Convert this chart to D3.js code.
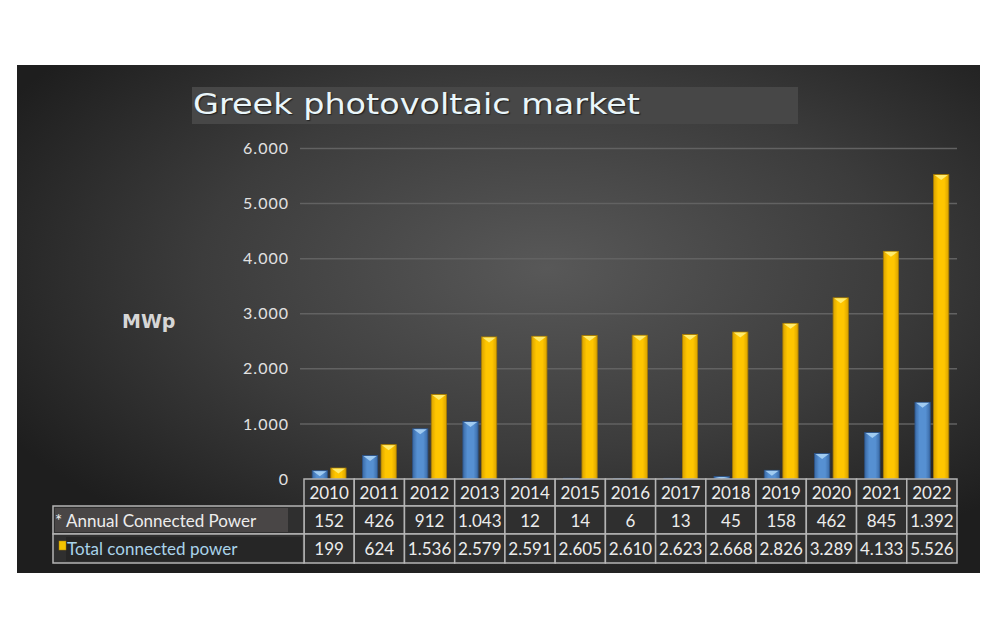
<!DOCTYPE html>
<html>
<head>
<meta charset="utf-8">
<script src="https://cdn.jsdelivr.net/npm/d3@7"></script>
<style>
  body { margin: 0; background: #fff; }
  svg { display: block; }
</style>
</head>
<body>
<div id="chart"></div>
<script>
var years = ['2010', '2011', '2012', '2013', '2014', '2015', '2016', '2017', '2018', '2019', '2020', '2021', '2022'];
var annualPower = [152, 426, 912, 1043, 12, 14, 6, 13, 45, 158, 462, 845, 1392];
var totalPower = [199, 624, 1536, 2579, 2591, 2605, 2610, 2623, 2668, 2826, 3289, 4133, 5526];
var yTicks = [0, 1000, 2000, 3000, 4000, 5000, 6000];
var seriesNames = ['* Annual Connected Power', 'Total connected power'];

var width = 1000, height = 640;

var svg = d3.select('#chart')
  .append('svg')
  .attr('width', width)
  .attr('height', height);

var gr = d3.formatLocale({ decimal: ',', thousands: '.', grouping: [3], currency: ['', ''] });
var fmt = gr.format(',d');

var defs = svg.append('defs');

// dark slide background
var bg = defs.append('radialGradient').attr('id', 'bg')
  .attr('cx', '55%').attr('cy', '40%').attr('r', '65%');
bg.append('stop').attr('offset', '0%').attr('stop-color', '#585858');
bg.append('stop').attr('offset', '55%').attr('stop-color', '#3c3c3c');
bg.append('stop').attr('offset', '100%').attr('stop-color', '#1e1e1e');

function barGrad(id, edge, mid) {
  var g = defs.append('linearGradient').attr('id', id)
    .attr('x1', '0%').attr('y1', '0%').attr('x2', '100%').attr('y2', '0%');
  g.append('stop').attr('offset', '0%').attr('stop-color', edge);
  g.append('stop').attr('offset', '30%').attr('stop-color', mid);
  g.append('stop').attr('offset', '70%').attr('stop-color', mid);
  g.append('stop').attr('offset', '100%').attr('stop-color', edge);
}
barGrad('blueBar', '#3a6aa6', '#5690d2');
barGrad('yellowBar', '#d9a200', '#ffc600');

svg.append('rect')
  .attr('x', 17).attr('y', 65)
  .attr('width', 963).attr('height', 508)
  .attr('fill', 'url(#bg)');

// title
svg.append('rect')
  .attr('x', 192).attr('y', 87)
  .attr('width', 606).attr('height', 37)
  .attr('fill', '#474747');
svg.append('text')
  .attr('x', 193).attr('y', 114)
  .attr('font-family', 'DejaVu Sans, sans-serif')
  .attr('font-size', 28)
  .attr('textLength', 447)
  .attr('lengthAdjust', 'spacingAndGlyphs')
  .attr('fill', '#eaf6fa')
  .style('text-shadow', '1px 1px 1px #222')
  .text('Greek photovoltaic market');

// scales
var x = d3.scaleBand()
  .domain(years)
  .range([304, 957]);

var xInner = d3.scaleBand()
  .domain(['annual', 'total'])
  .range([0, x.bandwidth()])
  .paddingInner(0.18)
  .paddingOuter(0.44);

var y = d3.scaleLinear()
  .domain([0, 6000])
  .range([479, 148.5]);

// gridlines
svg.append('g')
  .selectAll('line')
  .data(yTicks.slice(1))
  .enter().append('line')
  .attr('x1', 300).attr('x2', 957)
  .attr('y1', function(d) { return y(d) })
  .attr('y2', function(d) { return y(d) })
  .attr('stroke', '#626262')
  .attr('stroke-width', 1.5);

var yAxis = svg.append('g')
  .attr('transform', 'translate(289,0)')
  .call(d3.axisLeft(y).tickValues(yTicks).tickFormat(fmt).tickSize(0).tickPadding(0));
yAxis.select('.domain').remove();
yAxis.selectAll('text')
  .attr('font-family', 'Lato, sans-serif')
  .attr('font-size', 16)
  .attr('letter-spacing', 1)
  .attr('fill', '#e2e2e2');

svg.append('text')
  .attr('x', 122).attr('y', 328)
  .attr('font-family', 'DejaVu Sans, sans-serif')
  .attr('font-weight', 'bold')
  .attr('font-size', 19)
  .attr('fill', '#d6d6d6')
  .text('MWp');

// bars
var barData = [];
years.forEach(function(yr, i) {
  barData.push({ year: yr, key: 'annual', value: annualPower[i] });
  barData.push({ year: yr, key: 'total', value: totalPower[i] });
});

var colors = {
  annual: { fill: 'url(#blueBar)', stroke: '#2c5388', top: '#a9d2f4' },
  total: { fill: 'url(#yellowBar)', stroke: '#a87c00', top: '#fff07a' }
};

var bars = svg.append('g').selectAll('.bar')
  .data(barData)
  .enter().append('g')
  .attr('class', 'bar');

bars.append('rect')
  .attr('x', function(d) { return x(d.year) + xInner(d.key) })
  .attr('y', function(d) { return y(d.value) })
  .attr('width', xInner.bandwidth())
  .attr('height', function(d) { return y(0) - y(d.value) })
  .attr('fill', function(d) { return colors[d.key].fill })
  .attr('stroke', function(d) { return colors[d.key].stroke })
  .attr('stroke-width', 0.8);

// bevelled top
bars.append('path')
  .attr('d', function(d) {
    var x0 = x(d.year) + xInner(d.key) + 1, w = xInner.bandwidth() - 2;
    var y0 = y(d.value) + 0.5, h = Math.min(5, y(0) - y(d.value) - 1);
    if (h <= 0) return null;
    return 'M' + x0 + ',' + y0 + 'L' + (x0 + w) + ',' + y0 + 'L' + (x0 + w / 2) + ',' + (y0 + h) + 'Z';
  })
  .attr('fill', function(d) { return colors[d.key].top })
  .attr('opacity', 0.9);

// data table
var rowTop = [479, 506, 534, 563];
var table = svg.append('g');

var rows = [years, annualPower.map(fmt), totalPower.map(fmt)];
var baselines = [499, 527, 555];

rows.forEach(function(row, r) {
  table.selectAll('.cell-' + r)
    .data(row)
    .enter().append('rect')
    .attr('class', 'cell-' + r)
    .attr('x', function(d, i) { return x(years[i]) })
    .attr('y', rowTop[r])
    .attr('width', x.bandwidth())
    .attr('height', rowTop[r + 1] - rowTop[r])
    .attr('fill', '#2f2f2f')
    .attr('stroke', '#b4b4b4')
    .attr('stroke-width', 1.5);

  table.selectAll('.txt-' + r)
    .data(row)
    .enter().append('text')
    .attr('class', 'txt-' + r)
    .attr('x', function(d, i) { return x(years[i]) + x.bandwidth() / 2 })
    .attr('y', baselines[r])
    .attr('text-anchor', 'middle')
    .attr('font-family', 'Lato, sans-serif')
    .attr('font-size', 17)
    .attr('fill', '#ececec')
    .text(function(d) { return d });
});

// row labels
[1, 2].forEach(function(r) {
  table.append('rect')
    .attr('x', 53).attr('y', rowTop[r])
    .attr('width', 251).attr('height', rowTop[r + 1] - rowTop[r])
    .attr('fill', '#2f2f2f')
    .attr('stroke', '#b4b4b4')
    .attr('stroke-width', 1.5);
});

table.append('rect')
  .attr('x', 55).attr('y', 508)
  .attr('width', 233).attr('height', 24)
  .attr('fill', '#494646');
table.append('text')
  .attr('x', 55).attr('y', 527)
  .attr('font-family', 'Lato, sans-serif')
  .attr('font-size', 17)
  .attr('fill', '#ededed')
  .text(seriesNames[0]);

table.append('rect')
  .attr('x', 66).attr('y', 537)
  .attr('width', 236).attr('height', 24)
  .attr('fill', '#262626');
table.append('rect')
  .attr('x', 59).attr('y', 541)
  .attr('width', 7).attr('height', 9)
  .attr('fill', '#f3c300')
  .attr('stroke', '#a87c00')
  .attr('stroke-width', 0.5);
table.append('text')
  .attr('x', 67).attr('y', 555)
  .attr('font-family', 'Lato, sans-serif')
  .attr('font-size', 17)
  .attr('fill', '#a9d3ea')
  .text(seriesNames[1]);
</script>
</body>
</html>
